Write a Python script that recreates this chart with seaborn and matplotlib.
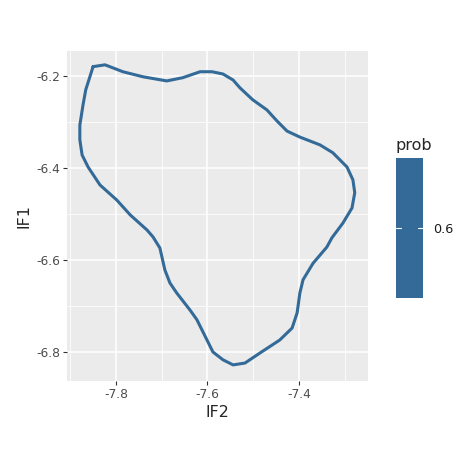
import matplotlib
matplotlib.use("Agg")
import matplotlib.pyplot as plt
import numpy as np
import pandas as pd
import seaborn as sns
from matplotlib.colors import ListedColormap, Normalize
from matplotlib.cm import ScalarMappable
from matplotlib.ticker import MultipleLocator, FuncFormatter

# contour of the 0.6 probability level, traced clockwise from the top-left corner
lf2 = [-7.850, -7.824, -7.785, -7.741, -7.689, -7.654, -7.616, -7.590, -7.566, -7.544,
       -7.529, -7.501, -7.470, -7.448, -7.426, -7.398, -7.354, -7.326, -7.295, -7.282,
       -7.278, -7.284, -7.304, -7.328, -7.339, -7.369, -7.391, -7.398, -7.404, -7.415,
       -7.442, -7.485, -7.518, -7.544, -7.566, -7.588, -7.601, -7.623, -7.638, -7.667,
       -7.682, -7.693, -7.704, -7.719, -7.732, -7.769, -7.798, -7.835, -7.861, -7.874,
       -7.879, -7.879, -7.872, -7.866, -7.850]
lf1 = [-6.180, -6.176, -6.191, -6.202, -6.211, -6.204, -6.191, -6.191, -6.196, -6.209,
       -6.226, -6.252, -6.274, -6.298, -6.320, -6.333, -6.350, -6.367, -6.398, -6.426,
       -6.454, -6.487, -6.520, -6.552, -6.572, -6.607, -6.643, -6.672, -6.715, -6.748,
       -6.774, -6.802, -6.824, -6.828, -6.817, -6.800, -6.774, -6.730, -6.709, -6.672,
       -6.650, -6.622, -6.574, -6.550, -6.535, -6.502, -6.470, -6.437, -6.398, -6.372,
       -6.339, -6.307, -6.263, -6.230, -6.180]
prob_level = 0.6
line_color = "#336a98"

df = pd.DataFrame({"lF2": lf2, "lF1": lf1})

sns.set_theme(rc={
    "axes.facecolor": "#EBEBEB",
    "figure.facecolor": "white",
    "axes.edgecolor": "#EBEBEB",
    "grid.color": "white",
    "xtick.color": "#333333",
    "ytick.color": "#333333",
    "xtick.labelcolor": "#4D4D4D",
    "ytick.labelcolor": "#4D4D4D",
})
plt.rcParams["font.family"] = ["DejaVu Sans"]

fig = plt.figure(figsize=(4.74, 4.74), dpi=100)
ax = fig.add_axes([0.1414, 0.1962, 0.635, 0.6962])

sns.lineplot(data=df, x="lF2", y="lF1", sort=False, estimator=None,
             color=line_color, linewidth=2.2, ax=ax)

fmt = FuncFormatter(lambda v, p: f"{v:.1f}")
ax.set_xlim(-7.907, -7.249)
ax.set_ylim(-6.863, -6.146)
ax.xaxis.set_major_locator(MultipleLocator(0.2))
ax.yaxis.set_major_locator(MultipleLocator(0.2))
ax.xaxis.set_minor_locator(MultipleLocator(0.1))
ax.yaxis.set_minor_locator(MultipleLocator(0.1))
ax.grid(which="major", color="white", linewidth=1.1)
ax.grid(which="minor", color="white", linewidth=0.55)
ax.tick_params(which="major", length=3, width=0.8, direction="out",
               labelsize=8.8, pad=2, bottom=True, left=True)
ax.tick_params(which="minor", length=0)
ax.xaxis.set_major_formatter(fmt)
ax.yaxis.set_major_formatter(fmt)
for s in ax.spines.values():
    s.set_visible(False)
ax.set_xlabel("lF2", fontsize=11.5, labelpad=3)
ax.set_ylabel("lF1", fontsize=11.5, labelpad=3)

# legend colourbar for the single contour level
cax = fig.add_axes([0.8354, 0.371, 0.057, 0.295])
sm = ScalarMappable(norm=Normalize(prob_level - 0.1, prob_level + 0.1),
                    cmap=ListedColormap([line_color]))
cb = fig.colorbar(sm, cax=cax, ticks=[prob_level])
cb.outline.set_visible(False)
cb.ax.tick_params(length=0, labelsize=9.2, labelcolor="#1a1a1a", pad=7)
cb.ax.yaxis.set_major_formatter(fmt)
cax.axhline(prob_level, xmin=0, xmax=0.17, color="white", linewidth=0.8)
cax.axhline(prob_level, xmin=0.83, xmax=1, color="white", linewidth=0.8)
cax.set_title("prob", loc="left", fontsize=11.5, pad=6)

fig.savefig("out.png", dpi=100)
